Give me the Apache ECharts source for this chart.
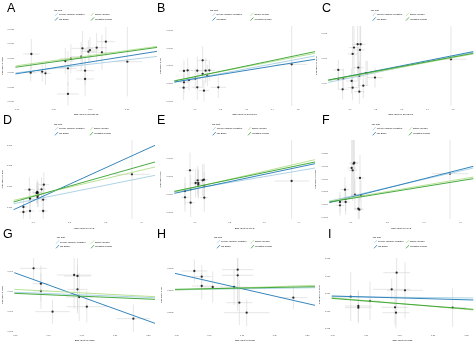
<!DOCTYPE html>
<html><head><meta charset="utf-8">
<script src="https://cdn.jsdelivr.net/npm/echarts@6/dist/echarts.min.js"></script>
<style>html,body{margin:0;padding:0;background:#fff}#c{width:474px;height:342px}</style>
</head><body><div id="c"></div>
<script>
// ---------- text ----------
const panelLetters = ['A','B','C','D','E','F','G','H','I'];
const xTitles = ['SNP effect on Overall LC','SNP effect on LUAD','SNP effect on LUSC'];
const yTitles = ['SNP effect on ICH','SNP effect on IS','SNP effect on SAH'];
const legendTitle = 'MR Test';
const methodNames = ['Inverse variance weighted','MR Egger','Simple median','Weighted median'];
const methodColors = ['#a6cee3','#1f78b4','#b2df8a','#33a02c'];

// ---------- panel A ----------
const xA = [0.0194,0.0185,0.0342,0.0387,0.0658,0.0734,0.0694,0.0874,0.0892,0.0928,0.0928,0.0973,0.0995,0.1086,0.1158,0.1212,0.1505,0.0694];
const yA = [0.000644,0,0.0000345,-0.000023,0.000402,0.000483,0.000149,0.000552,0.000839,0.000069,-0.000218,0.000724,0.000781,0.000862,0.000701,0.001069,0.000379,-0.000735];
const seXA = [0.011,0.008,0.007,0.007,0.012,0.015,0.012,0.014,0.015,0.012,0.012,0.010,0.012,0.014,0.015,0.012,0.02,0.015];
const seYA = [0.00052,0.0003,0.00035,0.0004,0.00045,0.0005,0.0006,0.0005,0.0006,0.0005,0.0006,0.0004,0.00045,0.0005,0.0006,0.0005,0.0012,0.0004];
const slopeA = [0.00293,0.00403,0.00348,0.00354];
const interceptA = [0,-0.0000345,0.000241,0.000195];
const xRangeA = [-0.0023,0.191], yRangeA = [-0.00115,0.00161];
const xTicksA = [0,0.05,0.10,0.15], yTicksA = [-0.0010,-0.0005,0,0.0005,0.0010,0.0015];

// ---------- panel B ----------
const xB = [0.0574,0.0716,0.0574,0.0561,0.0768,0.109,0.1013,0.109,0.1297,0.1297,0.1348,0.1413,0.1555,0.1477,0.1903,0.4742];
const yB = [0.000349,0.000368,0.0000283,-0.000123,0.0000943,0.000358,0.000132,-0.000113,0.000651,0.000264,-0.000207,0.000358,0.000368,0.000226,-0.000113,0.000538];
const seXB = [0.02,0.02,0.018,0.018,0.02,0.025,0.022,0.022,0.02,0.02,0.02,0.025,0.022,0.02,0.03,0.06];
const seYB = [0.0003,0.00035,0.0003,0.00035,0.0003,0.0004,0.0003,0.00035,0.0004,0.00035,0.0003,0.00035,0.0003,0.0003,0.0003,0.0015];
const slopeB = [0.00137,0.001178,0.001421,0.001524];
const interceptB = [0,0.0000141,0.000047,0.0000355];
const xRangeB = [0.02,0.5645], yRangeB = [-0.000641,0.00162];
const xTicksB = [0.1,0.2,0.3,0.4,0.5], yTicksB = [-0.0005,0,0.0005,0.0010,0.0015];

// ---------- panel C ----------
const xC = [0.0548,0.0548,0.0742,0.0716,0.1065,0.1103,0.1103,0.1155,0.1297,0.1413,0.1387,0.1323,0.1361,0.1361,0.1516,0.1619,0.1671,0.1968,0.4910];
const yC = [0.000533,0.000173,0.000187,-0.00024,0.0000933,-0.000173,0.001173,0.001427,0.00156,0.00156,0.001333,0.000627,0.000293,-0.000333,-0.0000933,0.0004,0.0004,0.000227,0.00096];
const seXC = [0.02,0.018,0.02,0.02,0.022,0.02,0.02,0.02,0.02,0.02,0.02,0.02,0.02,0.02,0.02,0.02,0.025,0.03,0.06];
const seYC = [0.0004,0.0004,0.0004,0.0004,0.0005,0.0005,0.0012,0.0012,0.0014,0.0012,0.0012,0.0008,0.0006,0.0005,0.0005,0.0005,0.0005,0.0004,0.0025];
const slopeC = [0.00215,0.002043,0.0019,0.0019];
const interceptC = [0,0.000087,0.000076,0.000102];
const xRangeC = [0.0161,0.5774], yRangeC = [-0.000907,0.00229];
const xTicksC = [0.1,0.2,0.3,0.4,0.5], yTicksC = [0,0.001,0.002];

// ---------- panel D ----------
const xD = [0.0727,0.0727,0.0909,0.0909,0.0891,0.1091,0.1109,0.1118,0.1136,0.1118,0.1227,0.1273,0.1291,0.1273,0.3727];
const yD = [0,-0.000243,-0.000194,0.000405,0.000842,0.00068,0.000729,0.000697,0.000599,0.000486,0.000859,0.000356,0.001085,-0.000194,0.001588];
const seXD = [0.012,0.012,0.012,0.012,0.015,0.012,0.015,0.012,0.012,0.012,0.012,0.012,0.014,0.012,0.05];
const seYD = [0.00045,0.0004,0.0005,0.0005,0.0006,0.0005,0.0006,0.0005,0.0006,0.0005,0.0006,0.0007,0.0006,0.0005,0.003];
const slopeD = [0.003527,0.008,0.004144,0.004973];
const interceptD = [0,-0.000494,0.000135,0.000017];
const xRangeD = [0.0455,0.4364], yRangeD = [-0.000583,0.003256];
const xTicksD = [0.1,0.2,0.3,0.4], yTicksD = [0,0.001,0.002,0.003];

// ---------- panel E ----------
const xE = [0.0712,0.0712,0.0856,0.0875,0.0875,0.1019,0.1077,0.1096,0.1096,0.1221,0.126,0.1269,0.1269,0.3788];
const yE = [0.0000938,-0.0000844,0.000675,0.000141,-0.000234,0.000319,0.000394,0.000319,0.000272,0.000394,0.000413,0.000234,-0.0000938,0.000375];
const seXE = [0.012,0.012,0.012,0.012,0.012,0.012,0.012,0.012,0.012,0.012,0.012,0.012,0.012,0.05];
const seYE = [0.0004,0.0004,0.0005,0.0004,0.0004,0.0004,0.0004,0.0004,0.0004,0.00045,0.00045,0.0004,0.0004,0.002];
const slopeE = [0.00166,0.002057,0.002243,0.002035];
const interceptE = [0,-0.000055,-0.000025,0.0000022];
const xRangeE = [0.0404,0.4462], yRangeE = [-0.000694,0.001529];
const xTicksE = [0.1,0.2,0.3,0.4], yTicksE = [-0.0005,0,0.0005,0.0010];

// ---------- panel F ----------
const xF = [0.0709,0.0709,0.0845,0.0864,0.0864,0.1027,0.1055,0.1082,0.11,0.1118,0.1209,0.1236,0.1255,0.1282,0.3709];
const yF = [0.000104,-0.0000261,0.000587,0.000235,0.000104,0.001436,0.001344,0.001605,0.001644,0.000392,-0.000157,-0.000196,0.001044,0.000365,0.001214];
const seXF = [0.012,0.012,0.012,0.012,0.012,0.012,0.012,0.012,0.012,0.012,0.012,0.012,0.012,0.012,0.05];
const seYF = [0.0004,0.0004,0.0005,0.0005,0.0005,0.0012,0.0012,0.0012,0.0012,0.0006,0.0005,0.0005,0.0009,0.0006,0.003];
const slopeF = [0.003305,0.003623,0.002424,0.002328];
const interceptF = [0,-0.000073,0.00003,0.0000067];
const xRangeF = [0.0418,0.4345], yRangeF = [-0.000561,0.002532];
const xTicksF = [0.1,0.2,0.3,0.4], yTicksF = [-0.0005,0,0.0005,0.0010,0.0015,0.0020];

// ---------- panel G ----------
const xG = [0.0775,0.0885,0.0885,0.106,0.1385,0.1435,0.1435,0.146,0.1575,0.2275];
const yG = [0.001133,0.000367,0,-0.001033,0.0008,0.00075,0.0000833,-0.0003,-0.000783,-0.001383];
const seXG = [0.02,0.012,0.012,0.026,0.026,0.02,0.015,0.02,0.03,0.025];
const seYG = [0.0006,0.0009,0.0009,0.0006,0.0017,0.0017,0.0012,0.0012,0.0008,0.0007];
const slopeG = [-0.00128,-0.01198,-0.001734,-0.001418];
const interceptG = [0,0.001498,0.000167,-0.000048];
const xRangeG = [0.0485,0.26], yRangeG = [-0.00205,0.00165];
const xTicksG = [0.05,0.10,0.15,0.20,0.25], yTicksG = [-0.002,-0.001,0,0.001];

// ---------- panel H ----------
const xH = [0.077,0.0883,0.0883,0.1051,0.1378,0.1434,0.1434,0.1459,0.1571,0.2286];
const yH = [0.000433,0.000306,0.000097,0.0000746,0.0000746,0.000463,0.000336,-0.000276,-0.0005,-0.000164];
const seXH = [0.02,0.015,0.015,0.015,0.02,0.024,0.024,0.02,0.035,0.022];
const seYH = [0.00026,0.00026,0.0003,0.00035,0.0004,0.0008,0.0008,0.0005,0.0003,0.00026];
const slopeH = [0.000228,-0.00334,0.000487,0.000278];
const interceptH = [0,0.000538,-0.0000156,0.0000092];
const xRangeH = [0.0474,0.2617], yRangeH = [-0.000933,0.000724];
const xTicksH = [0.05,0.10,0.15,0.20,0.25], yTicksH = [-0.0005,0,0.0005];

// ---------- panel I ----------
const xI = [0.0769,0.0883,0.0883,0.1057,0.1381,0.1455,0.158,0.1431,0.1445,0.2291];
const yI = [-0.000171,-0.000705,-0.0008,-0.000419,0.000248,0.0012,0.000191,-0.000781,-0.001086,-0.0008];
const seXI = [0.015,0.02,0.02,0.015,0.028,0.02,0.027,0.02,0.02,0.02];
const seYI = [0.0014,0.0009,0.0009,0.0011,0.0006,0.002,0.0016,0.001,0.0009,0.0011];
const slopeI = [-0.000364,-0.00108,-0.00333,-0.00297];
const interceptI = [-0.000153,-0.0000806,-0.0000675,-0.000123];
const xRangeI = [0.0485,0.26], yRangeI = [-0.00219,0.002038];
const xTicksI = [0.05,0.10,0.15,0.20,0.25], yTicksI = [-0.002,-0.001,0,0.001,0.002];

// ---------- assemble ----------
const panels = [
  {x:xA,y:yA,sx:seXA,sy:seYA,b:slopeA,a:interceptA,xr:xRangeA,yr:yRangeA,xt:xTicksA,yt:yTicksA},
  {x:xB,y:yB,sx:seXB,sy:seYB,b:slopeB,a:interceptB,xr:xRangeB,yr:yRangeB,xt:xTicksB,yt:yTicksB},
  {x:xC,y:yC,sx:seXC,sy:seYC,b:slopeC,a:interceptC,xr:xRangeC,yr:yRangeC,xt:xTicksC,yt:yTicksC},
  {x:xD,y:yD,sx:seXD,sy:seYD,b:slopeD,a:interceptD,xr:xRangeD,yr:yRangeD,xt:xTicksD,yt:yTicksD},
  {x:xE,y:yE,sx:seXE,sy:seYE,b:slopeE,a:interceptE,xr:xRangeE,yr:yRangeE,xt:xTicksE,yt:yTicksE},
  {x:xF,y:yF,sx:seXF,sy:seYF,b:slopeF,a:interceptF,xr:xRangeF,yr:yRangeF,xt:xTicksF,yt:yTicksF},
  {x:xG,y:yG,sx:seXG,sy:seYG,b:slopeG,a:interceptG,xr:xRangeG,yr:yRangeG,xt:xTicksG,yt:yTicksG},
  {x:xH,y:yH,sx:seXH,sy:seYH,b:slopeH,a:interceptH,xr:xRangeH,yr:yRangeH,xt:xTicksH,yt:yTicksH},
  {x:xI,y:yI,sx:seXI,sy:seYI,b:slopeI,a:interceptI,xr:xRangeI,yr:yRangeI,xt:xTicksI,yt:yTicksI}
];

// layout (pixels): grid [left, top, width, height]
const gridBoxes = [
  [14,26,143,80],[174.3,26,140.7,80],[328.3,26,145,80],
  [11.7,140,143.3,79],[174.3,140,140.7,79],[329.3,140,144,79],
  [14,258,141,74],[175,258,140,74],[331.7,258,141.6,74]
];
const letterPos = [[7,2],[157,2],[322,2],[3,114],[157,114],[322,114],[3,228],[157,228],[328,228]];
// [titleX,titleY,key1X,key2X,row1Y,row2Y]
const legendPos = [
  [54,10,55,91,14.3,19],[210,10,212.5,250.5,14.3,19],[370.7,10,372.7,406,14.3,19],
  [54,124.7,55,90,128.7,133.7],[212,124.7,212.7,248,128.7,133.7],[371.7,124.7,372.7,409,128.7,133.7],
  [56.7,237.7,56,91,242,246.7],[214,237.7,217,251,241.7,246.7],[372.7,237.7,374,406,241.7,246.7]
];
const xNameGap = [7,8,7];
const FONT = 'Liberation Sans, Arial, sans-serif';
const SMALL = 2.2;

function decimalsFor(ticks){
  for(let d=0;d<8;d++){const m=Math.pow(10,d);
    if(ticks.every(t=>Math.abs(t*m-Math.round(t*m))<1e-7)) return d;}
  return 8;
}

const grids=[], xAxes=[], yAxes=[], series=[], elements=[];
panels.forEach((p,i)=>{
  const g=gridBoxes[i], row=Math.floor(i/3), col=i%3;
  grids.push({left:g[0],top:g[1],width:g[2],height:g[3]});
  const xd=decimalsFor(p.xt), yd=decimalsFor(p.yt);
  xAxes.push({type:'value',gridIndex:i,min:p.xr[0],max:p.xr[1],
    name:xTitles[row],nameLocation:'middle',nameGap:xNameGap[row],
    nameTextStyle:{fontSize:SMALL,color:'#000',fontFamily:FONT},
    axisLine:{show:false},axisTick:{show:false},splitLine:{show:false},
    axisLabel:{customValues:p.xt,formatter:v=>Number(v).toFixed(xd),fontSize:SMALL*0.95,color:'#4d4d4d',margin:2,fontFamily:FONT}});
  yAxes.push({type:'value',gridIndex:i,min:p.yr[0],max:p.yr[1],
    name:yTitles[col],nameLocation:'middle',nameGap:9,
    nameTextStyle:{fontSize:SMALL,color:'#000',fontFamily:FONT},
    axisLine:{show:false},axisTick:{show:false},splitLine:{show:false},
    axisLabel:{customValues:p.yt,formatter:v=>Number(v).toFixed(yd),fontSize:SMALL*0.95,color:'#4d4d4d',margin:1.5,fontFamily:FONT}});
  // error bars
  series.push({type:'custom',xAxisIndex:i,yAxisIndex:i,silent:true,z:1,clip:true,
    data:p.x.map((v,k)=>[v,p.y[k],p.sx[k],p.sy[k]]),
    renderItem:(params,api)=>{
      const x=api.value(0),y=api.value(1),sx=api.value(2),sy=api.value(3);
      const cs=params.coordSys;
      const cl=(v,lo,hi)=>Math.max(lo,Math.min(hi,v));
      const h1=api.coord([x-sx,y]),h2=api.coord([x+sx,y]),v1=api.coord([x,y-sy]),v2=api.coord([x,y+sy]);
      const st={stroke:'#d2d2d2',lineWidth:0.55};
      return {type:'group',children:[
        {type:'line',shape:{x1:cl(h1[0],cs.x,cs.x+cs.width),y1:h1[1],x2:cl(h2[0],cs.x,cs.x+cs.width),y2:h2[1]},style:st},
        {type:'line',shape:{x1:v1[0],y1:cl(v1[1],cs.y,cs.y+cs.height),x2:v2[0],y2:cl(v2[1],cs.y,cs.y+cs.height)},style:st}
      ]};
    }});
  // points
  series.push({type:'scatter',xAxisIndex:i,yAxisIndex:i,silent:true,z:2,symbolSize:2.3,
    itemStyle:{color:'#000'},data:p.x.map((v,k)=>[v,p.y[k]])});
  // regression lines
  methodNames.forEach((m,j)=>{
    series.push({type:'line',name:m,xAxisIndex:i,yAxisIndex:i,silent:true,z:3,symbol:'none',clip:true,
      lineStyle:{color:methodColors[j],width:0.9},
      data:[[p.xr[0],p.a[j]+p.b[j]*p.xr[0]],[p.xr[1],p.a[j]+p.b[j]*p.xr[1]]]});
  });
  // letter
  elements.push({type:'text',x:letterPos[i][0],y:letterPos[i][1],
    style:{text:panelLetters[i],fontSize:12.5,fontFamily:FONT,fill:'#000',textVerticalAlign:'top'}});
  // legend
  const L=legendPos[i];
  elements.push({type:'text',x:L[0],y:L[1],style:{text:legendTitle,fontSize:SMALL,fontFamily:FONT,fill:'#000',textVerticalAlign:'middle'}});
  const order=[[0,L[2],L[4]],[2,L[3],L[4]],[1,L[2],L[5]],[3,L[3],L[5]]];
  order.forEach(o=>{
    elements.push({type:'line',shape:{x1:o[1],y1:o[2]+1.6,x2:o[1]+3,y2:o[2]-1.6},style:{stroke:methodColors[o[0]],lineWidth:0.8}});
    elements.push({type:'text',x:o[1]+4,y:o[2],style:{text:methodNames[o[0]],fontSize:SMALL,fontFamily:FONT,fill:'#000',textVerticalAlign:'middle'}});
  });
});

const chart = echarts.init(document.getElementById('c'),null,{renderer:'canvas'});
chart.setOption({animation:false,backgroundColor:'#fff',
  grid:grids,xAxis:xAxes,yAxis:yAxes,series:series,graphic:{elements:elements}});
</script></body></html>
